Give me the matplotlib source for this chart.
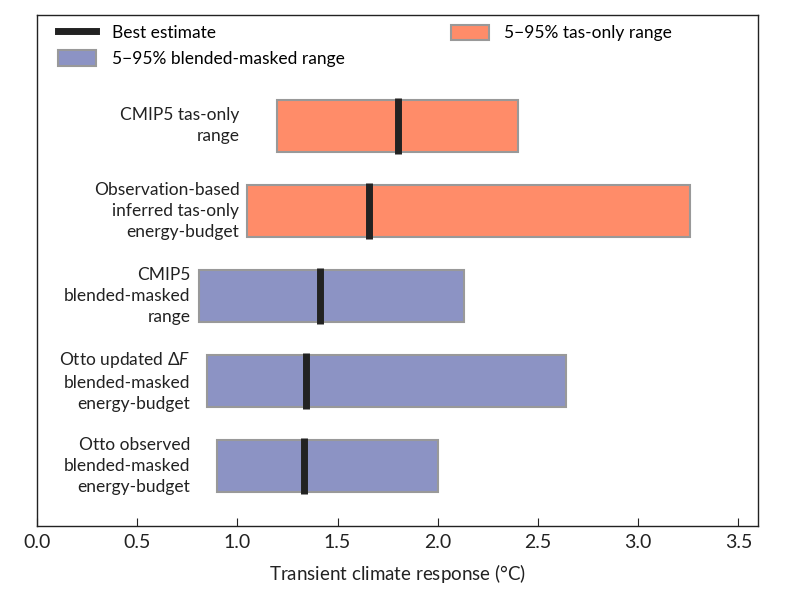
import matplotlib
matplotlib.use("Agg")
import matplotlib.pyplot as plt
from matplotlib.lines import Line2D
from matplotlib.patches import Patch

plt.rcParams["font.family"] = ["Lato", "DejaVu Sans"]
plt.rcParams["mathtext.fontset"] = "custom"
plt.rcParams["mathtext.it"] = "Lato:italic"
plt.rcParams["mathtext.rm"] = "Lato"

labels = [
    "CMIP5 tas-only\nrange",
    "Observation-based\ninferred tas-only\nenergy-budget",
    "CMIP5\nblended-masked\nrange",
    "Otto updated $\\Delta F$\nblended-masked\nenergy-budget",
    "Otto observed\nblended-masked\nenergy-budget",
]
low = [1.20, 1.05, 0.81, 0.85, 0.90]
high = [2.40, 3.26, 2.13, 2.64, 2.00]
best = [1.80, 1.655, 1.41, 1.34, 1.33]
kind = ["tas", "tas", "blend", "blend", "blend"]
xticks = [0.0, 0.5, 1.0, 1.5, 2.0, 2.5, 3.0, 3.5]

ORANGE = "#ff8c69"
BLUE = "#8c93c4"
EDGE = "#999999"
INK = "#222222"
colors = {"tas": ORANGE, "blend": BLUE}

fig = plt.figure(figsize=(7.86, 6.01), dpi=100)
ax = fig.add_axes([0.047, 0.125, 0.918, 0.850])

n = len(labels)
ys = [n - 1 - i for i in range(n)]
for y, lo, hi, b, k, lab in zip(ys, low, high, best, kind, labels):
    ax.barh(y, hi - lo, left=lo, height=0.61, color=colors[k],
            edgecolor=EDGE, linewidth=1.5, zorder=2)
    ax.plot([b, b], [y - 0.33, y + 0.33], color=INK, linewidth=5,
            solid_capstyle="butt", zorder=3)
    # labels sit just left of the bars (two groups share a right edge)
    lx = 1.01 if k == "tas" else 0.765
    ax.text(lx, y, lab, ha="right", va="center", fontsize=12.5,
            color=INK, linespacing=1.38)

ax.set_xlim(0, 3.6)
ax.set_ylim(-0.7, 5.3)
ax.set_yticks([])
ax.set_xticks(xticks)
ax.set_xticklabels([f"{t:.1f}" for t in xticks], fontsize=14, color=INK)
ax.tick_params(axis="x", direction="in", length=6, color=INK, pad=6)
ax.set_xlabel("Transient climate response ($\\degree$C)", fontsize=13.5,
              color=INK, labelpad=8)
for s in ax.spines.values():
    s.set_color(INK)
    s.set_linewidth(1.0)

h_best = Line2D([], [], color=INK, linewidth=5)
h_tas = Patch(facecolor=ORANGE, edgecolor=EDGE, linewidth=1.5)
h_blend = Patch(facecolor=BLUE, edgecolor=EDGE, linewidth=1.5)
leg_kw = dict(frameon=False, fontsize=12.5, handlelength=2.2, handleheight=1.0,
              handletextpad=0.9, borderaxespad=0.15)
leg1 = ax.legend([h_best, h_blend], ["Best estimate", "5\u221295% blended-masked range"],
                 loc="upper left", bbox_to_anchor=(0.016, 1.0), labelspacing=0.5,
                 **leg_kw)
ax.add_artist(leg1)
ax.legend([h_tas], ["5\u221295% tas-only range"], loc="upper left",
          bbox_to_anchor=(0.56, 1.0), **leg_kw)

fig.savefig("out.png", dpi=100)
